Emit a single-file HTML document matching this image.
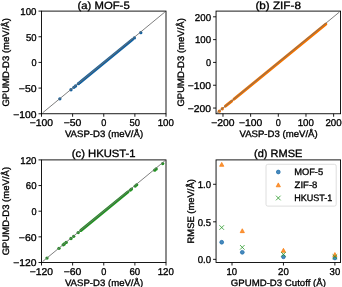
<!DOCTYPE html>
<html><head><meta charset="utf-8"><style>
html,body{margin:0;padding:0;background:#fff;}
svg{display:block;will-change:transform;}
text{text-rendering:geometricPrecision;}
text{font-family:"Liberation Sans",sans-serif;fill:#000;stroke:#000;stroke-width:0.32px;}
</style></head><body>
<svg width="342" height="287" viewBox="0 0 342 287">
<rect width="342" height="287" fill="#fff"/>
<circle cx="59.86" cy="98.84" r="1.65" fill="#14619f"/>
<circle cx="71.00" cy="89.74" r="1.65" fill="#14619f"/>
<circle cx="73.90" cy="87.37" r="1.65" fill="#14619f"/>
<circle cx="75.60" cy="85.98" r="1.65" fill="#14619f"/>
<circle cx="78.40" cy="83.69" r="1.65" fill="#14619f"/>
<circle cx="79.80" cy="82.55" r="1.65" fill="#14619f"/>
<circle cx="134.40" cy="37.93" r="1.65" fill="#14619f"/>
<circle cx="140.80" cy="32.70" r="1.65" fill="#14619f"/>
<line x1="80.80" y1="81.73" x2="132.60" y2="39.40" stroke="#14619f" stroke-width="3.0" stroke-linecap="round"/>
<line x1="42.70" y1="112.76" x2="164.80" y2="12.09" stroke="#707070" stroke-width="0.9"/>
<rect x="41.5" y="11.1" width="124.50" height="102.65" fill="none" stroke="#000" stroke-width="0.9"/>
<line x1="41.50" y1="113.75" x2="41.50" y2="116.75" stroke="#000" stroke-width="0.9"/>
<line x1="72.62" y1="113.75" x2="72.62" y2="116.75" stroke="#000" stroke-width="0.9"/>
<line x1="103.75" y1="113.75" x2="103.75" y2="116.75" stroke="#000" stroke-width="0.9"/>
<line x1="134.88" y1="113.75" x2="134.88" y2="116.75" stroke="#000" stroke-width="0.9"/>
<line x1="166.00" y1="113.75" x2="166.00" y2="116.75" stroke="#000" stroke-width="0.9"/>
<line x1="41.5" y1="113.75" x2="38.50" y2="113.75" stroke="#000" stroke-width="0.9"/>
<line x1="41.5" y1="88.09" x2="38.50" y2="88.09" stroke="#000" stroke-width="0.9"/>
<line x1="41.5" y1="62.42" x2="38.50" y2="62.42" stroke="#000" stroke-width="0.9"/>
<line x1="41.5" y1="36.76" x2="38.50" y2="36.76" stroke="#000" stroke-width="0.9"/>
<line x1="41.5" y1="11.10" x2="38.50" y2="11.10" stroke="#000" stroke-width="0.9"/>
<text x="29.79" y="125.85" font-size="9.9" textLength="23.31" lengthAdjust="spacingAndGlyphs">−100</text>
<text x="63.68" y="125.85" font-size="9.9" textLength="17.79" lengthAdjust="spacingAndGlyphs">−50</text>
<text x="101.20" y="125.85" font-size="9.9" textLength="5.10" lengthAdjust="spacingAndGlyphs">0</text>
<text x="129.58" y="125.85" font-size="9.9" textLength="10.57" lengthAdjust="spacingAndGlyphs">50</text>
<text x="157.72" y="125.85" font-size="9.9" textLength="16.19" lengthAdjust="spacingAndGlyphs">100</text>
<text x="13.24" y="117.55" font-size="9.9" textLength="23.31" lengthAdjust="spacingAndGlyphs">−100</text>
<text x="18.77" y="91.89" font-size="9.9" textLength="17.79" lengthAdjust="spacingAndGlyphs">−50</text>
<text x="31.41" y="66.22" font-size="9.9" textLength="5.10" lengthAdjust="spacingAndGlyphs">0</text>
<text x="25.95" y="40.56" font-size="9.9" textLength="10.57" lengthAdjust="spacingAndGlyphs">50</text>
<text x="20.34" y="14.90" font-size="9.9" textLength="16.19" lengthAdjust="spacingAndGlyphs">100</text>
<text x="77.58" y="8.50" font-size="10.5" textLength="52.10" lengthAdjust="spacingAndGlyphs">(a) MOF-5</text>
<text x="64.90" y="137.15" font-size="9.4" textLength="78.25" lengthAdjust="spacingAndGlyphs">VASP-D3 (meV/Å)</text>
<text transform="translate(9.20,0) rotate(-90)" x="-106.58" y="0" font-size="9.4" textLength="88.42" lengthAdjust="spacingAndGlyphs">GPUMD-D3 (meV/Å)</text>
<circle cx="219.30" cy="111.19" r="1.65" fill="#f07200"/>
<circle cx="222.30" cy="108.74" r="1.65" fill="#f07200"/>
<line x1="225.40" y1="106.21" x2="231.70" y2="101.06" stroke="#f07200" stroke-width="3.0" stroke-linecap="round"/>
<line x1="234.00" y1="99.18" x2="325.80" y2="24.15" stroke="#f07200" stroke-width="3.0" stroke-linecap="round"/>
<line x1="217.25" y1="112.76" x2="339.35" y2="12.09" stroke="#707070" stroke-width="0.9"/>
<rect x="216.05" y="11.1" width="124.50" height="102.65" fill="none" stroke="#000" stroke-width="0.9"/>
<line x1="222.97" y1="113.75" x2="222.97" y2="116.75" stroke="#000" stroke-width="0.9"/>
<line x1="250.63" y1="113.75" x2="250.63" y2="116.75" stroke="#000" stroke-width="0.9"/>
<line x1="278.30" y1="113.75" x2="278.30" y2="116.75" stroke="#000" stroke-width="0.9"/>
<line x1="305.97" y1="113.75" x2="305.97" y2="116.75" stroke="#000" stroke-width="0.9"/>
<line x1="333.63" y1="113.75" x2="333.63" y2="116.75" stroke="#000" stroke-width="0.9"/>
<line x1="216.05" y1="108.05" x2="213.05" y2="108.05" stroke="#000" stroke-width="0.9"/>
<line x1="216.05" y1="85.24" x2="213.05" y2="85.24" stroke="#000" stroke-width="0.9"/>
<line x1="216.05" y1="62.42" x2="213.05" y2="62.42" stroke="#000" stroke-width="0.9"/>
<line x1="216.05" y1="39.61" x2="213.05" y2="39.61" stroke="#000" stroke-width="0.9"/>
<line x1="216.05" y1="16.80" x2="213.05" y2="16.80" stroke="#000" stroke-width="0.9"/>
<text x="211.26" y="125.85" font-size="9.9" textLength="23.31" lengthAdjust="spacingAndGlyphs">−200</text>
<text x="238.93" y="125.85" font-size="9.9" textLength="23.31" lengthAdjust="spacingAndGlyphs">−100</text>
<text x="275.75" y="125.85" font-size="9.9" textLength="5.10" lengthAdjust="spacingAndGlyphs">0</text>
<text x="297.69" y="125.85" font-size="9.9" textLength="16.19" lengthAdjust="spacingAndGlyphs">100</text>
<text x="325.45" y="125.85" font-size="9.9" textLength="16.26" lengthAdjust="spacingAndGlyphs">200</text>
<text x="187.79" y="111.85" font-size="9.9" textLength="23.31" lengthAdjust="spacingAndGlyphs">−200</text>
<text x="187.79" y="89.04" font-size="9.9" textLength="23.31" lengthAdjust="spacingAndGlyphs">−100</text>
<text x="205.96" y="66.22" font-size="9.9" textLength="5.10" lengthAdjust="spacingAndGlyphs">0</text>
<text x="194.89" y="43.41" font-size="9.9" textLength="16.19" lengthAdjust="spacingAndGlyphs">100</text>
<text x="194.82" y="20.60" font-size="9.9" textLength="16.26" lengthAdjust="spacingAndGlyphs">200</text>
<text x="255.48" y="8.50" font-size="10.5" textLength="45.43" lengthAdjust="spacingAndGlyphs">(b) ZIF-8</text>
<text x="239.45" y="137.15" font-size="9.4" textLength="78.25" lengthAdjust="spacingAndGlyphs">VASP-D3 (meV/Å)</text>
<text transform="translate(183.75,0) rotate(-90)" x="-106.58" y="0" font-size="9.4" textLength="88.42" lengthAdjust="spacingAndGlyphs">GPUMD-D3 (meV/Å)</text>
<circle cx="47.00" cy="258.11" r="1.65" fill="#229322"/>
<circle cx="59.00" cy="248.30" r="1.65" fill="#229322"/>
<circle cx="63.20" cy="244.87" r="1.65" fill="#229322"/>
<circle cx="64.30" cy="243.98" r="1.65" fill="#229322"/>
<circle cx="66.20" cy="242.42" r="1.65" fill="#229322"/>
<circle cx="71.00" cy="238.50" r="1.65" fill="#229322"/>
<circle cx="73.70" cy="236.30" r="1.65" fill="#229322"/>
<circle cx="78.20" cy="232.62" r="1.65" fill="#229322"/>
<circle cx="130.30" cy="190.06" r="1.65" fill="#229322"/>
<circle cx="131.50" cy="189.08" r="1.65" fill="#229322"/>
<circle cx="135.20" cy="186.06" r="1.65" fill="#229322"/>
<circle cx="136.70" cy="184.83" r="1.65" fill="#229322"/>
<circle cx="154.70" cy="170.13" r="1.65" fill="#229322"/>
<circle cx="156.20" cy="168.91" r="1.65" fill="#229322"/>
<circle cx="162.70" cy="163.60" r="1.65" fill="#229322"/>
<line x1="80.80" y1="230.50" x2="128.00" y2="191.94" stroke="#229322" stroke-width="3.0" stroke-linecap="round"/>
<line x1="42.70" y1="261.51" x2="164.80" y2="160.89" stroke="#707070" stroke-width="0.9"/>
<rect x="41.5" y="159.9" width="124.50" height="102.60" fill="none" stroke="#000" stroke-width="0.9"/>
<line x1="41.50" y1="262.5" x2="41.50" y2="265.50" stroke="#000" stroke-width="0.9"/>
<line x1="72.62" y1="262.5" x2="72.62" y2="265.50" stroke="#000" stroke-width="0.9"/>
<line x1="103.75" y1="262.5" x2="103.75" y2="265.50" stroke="#000" stroke-width="0.9"/>
<line x1="134.88" y1="262.5" x2="134.88" y2="265.50" stroke="#000" stroke-width="0.9"/>
<line x1="166.00" y1="262.5" x2="166.00" y2="265.50" stroke="#000" stroke-width="0.9"/>
<line x1="41.5" y1="262.50" x2="38.50" y2="262.50" stroke="#000" stroke-width="0.9"/>
<line x1="41.5" y1="236.85" x2="38.50" y2="236.85" stroke="#000" stroke-width="0.9"/>
<line x1="41.5" y1="211.20" x2="38.50" y2="211.20" stroke="#000" stroke-width="0.9"/>
<line x1="41.5" y1="185.55" x2="38.50" y2="185.55" stroke="#000" stroke-width="0.9"/>
<line x1="41.5" y1="159.90" x2="38.50" y2="159.90" stroke="#000" stroke-width="0.9"/>
<text x="29.79" y="274.60" font-size="9.9" textLength="23.31" lengthAdjust="spacingAndGlyphs">−120</text>
<text x="63.68" y="274.60" font-size="9.9" textLength="17.79" lengthAdjust="spacingAndGlyphs">−60</text>
<text x="101.20" y="274.60" font-size="9.9" textLength="5.10" lengthAdjust="spacingAndGlyphs">0</text>
<text x="129.44" y="274.60" font-size="9.9" textLength="10.75" lengthAdjust="spacingAndGlyphs">60</text>
<text x="157.72" y="274.60" font-size="9.9" textLength="16.19" lengthAdjust="spacingAndGlyphs">120</text>
<text x="13.24" y="266.30" font-size="9.9" textLength="23.31" lengthAdjust="spacingAndGlyphs">−120</text>
<text x="18.77" y="240.65" font-size="9.9" textLength="17.79" lengthAdjust="spacingAndGlyphs">−60</text>
<text x="31.41" y="215.00" font-size="9.9" textLength="5.10" lengthAdjust="spacingAndGlyphs">0</text>
<text x="25.77" y="189.35" font-size="9.9" textLength="10.75" lengthAdjust="spacingAndGlyphs">60</text>
<text x="20.34" y="163.70" font-size="9.9" textLength="16.19" lengthAdjust="spacingAndGlyphs">120</text>
<text x="71.75" y="157.30" font-size="10.5" textLength="63.85" lengthAdjust="spacingAndGlyphs">(c) HKUST-1</text>
<text x="64.90" y="285.90" font-size="9.4" textLength="78.25" lengthAdjust="spacingAndGlyphs">VASP-D3 (meV/Å)</text>
<text transform="translate(9.20,0) rotate(-90)" x="-255.36" y="0" font-size="9.4" textLength="88.42" lengthAdjust="spacingAndGlyphs">GPUMD-D3 (meV/Å)</text>
<circle cx="221.71" cy="242.24" r="1.90" fill="#1a6cab" fill-opacity="0.8" stroke="#1a6cab" stroke-opacity="0.8" stroke-width="0.9"/>
<path d="M221.71 162.40L223.81 166.30L219.61 166.30Z" fill="#f97a0a" fill-opacity="0.8" stroke="#f97a0a" stroke-opacity="0.8" stroke-width="0.9" stroke-linejoin="miter"/>
<path d="M219.41 225.22L224.01 229.82M224.01 225.22L219.41 229.82" stroke="#289a28" stroke-opacity="0.8" stroke-width="1.0" fill="none"/>
<circle cx="242.29" cy="252.29" r="1.90" fill="#1a6cab" fill-opacity="0.8" stroke="#1a6cab" stroke-opacity="0.8" stroke-width="0.9"/>
<path d="M242.29 228.75L244.39 232.65L240.19 232.65Z" fill="#f97a0a" fill-opacity="0.8" stroke="#f97a0a" stroke-opacity="0.8" stroke-width="0.9" stroke-linejoin="miter"/>
<path d="M239.99 245.04L244.59 249.64M244.59 245.04L239.99 249.64" stroke="#289a28" stroke-opacity="0.8" stroke-width="1.0" fill="none"/>
<circle cx="283.44" cy="256.80" r="1.90" fill="#1a6cab" fill-opacity="0.8" stroke="#1a6cab" stroke-opacity="0.8" stroke-width="0.9"/>
<path d="M283.44 248.34L285.54 252.24L281.34 252.24Z" fill="#f97a0a" fill-opacity="0.8" stroke="#f97a0a" stroke-opacity="0.8" stroke-width="0.9" stroke-linejoin="miter"/>
<path d="M281.14 252.09L285.74 256.69M285.74 252.09L281.14 256.69" stroke="#289a28" stroke-opacity="0.8" stroke-width="1.0" fill="none"/>
<circle cx="334.89" cy="258.00" r="1.90" fill="#1a6cab" fill-opacity="0.8" stroke="#1a6cab" stroke-opacity="0.8" stroke-width="0.9"/>
<path d="M334.89 252.54L336.99 256.44L332.79 256.44Z" fill="#f97a0a" fill-opacity="0.8" stroke="#f97a0a" stroke-opacity="0.8" stroke-width="0.9" stroke-linejoin="miter"/>
<path d="M332.59 254.35L337.19 258.95M337.19 254.35L332.59 258.95" stroke="#289a28" stroke-opacity="0.8" stroke-width="1.0" fill="none"/>
<rect x="216.05" y="159.9" width="124.50" height="102.60" fill="none" stroke="#000" stroke-width="0.9"/>
<line x1="232.00" y1="262.5" x2="232.00" y2="265.50" stroke="#000" stroke-width="0.9"/>
<line x1="283.44" y1="262.5" x2="283.44" y2="265.50" stroke="#000" stroke-width="0.9"/>
<line x1="334.89" y1="262.5" x2="334.89" y2="265.50" stroke="#000" stroke-width="0.9"/>
<line x1="216.05" y1="259.35" x2="213.05" y2="259.35" stroke="#000" stroke-width="0.9"/>
<line x1="216.05" y1="221.82" x2="213.05" y2="221.82" stroke="#000" stroke-width="0.9"/>
<line x1="216.05" y1="184.29" x2="213.05" y2="184.29" stroke="#000" stroke-width="0.9"/>
<text x="226.50" y="274.60" font-size="9.9" textLength="10.64" lengthAdjust="spacingAndGlyphs">10</text>
<text x="278.03" y="274.60" font-size="9.9" textLength="10.72" lengthAdjust="spacingAndGlyphs">20</text>
<text x="329.61" y="274.60" font-size="9.9" textLength="10.56" lengthAdjust="spacingAndGlyphs">30</text>
<text x="197.64" y="263.15" font-size="9.9" textLength="13.44" lengthAdjust="spacingAndGlyphs">0.0</text>
<text x="197.82" y="225.62" font-size="9.9" textLength="13.28" lengthAdjust="spacingAndGlyphs">0.5</text>
<text x="197.66" y="188.09" font-size="9.9" textLength="13.41" lengthAdjust="spacingAndGlyphs">1.0</text>
<text x="254.04" y="157.30" font-size="10.5" textLength="48.31" lengthAdjust="spacingAndGlyphs">(d) RMSE</text>
<text x="230.79" y="285.90" font-size="9.4" textLength="95.13" lengthAdjust="spacingAndGlyphs">GPUMD-D3 Cutoff (Å)</text>
<text transform="translate(193.65,0) rotate(-90)" x="-243.44" y="0" font-size="9.4" textLength="64.30" lengthAdjust="spacingAndGlyphs">RMSE (meV/Å)</text>
<rect x="266.0" y="164.3" width="70.2" height="41.8" rx="1.8" fill="#fff" fill-opacity="0.8" stroke="#d6d6d6" stroke-width="0.8"/>
<circle cx="278.30" cy="172.00" r="1.90" fill="#1a6cab" fill-opacity="0.8" stroke="#1a6cab" stroke-opacity="0.8" stroke-width="0.9"/>
<path d="M278.30 182.90L280.40 186.80L276.20 186.80Z" fill="#f97a0a" fill-opacity="0.8" stroke="#f97a0a" stroke-opacity="0.8" stroke-width="0.9" stroke-linejoin="miter"/>
<path d="M276.00 195.70L280.60 200.30M280.60 195.70L276.00 200.30" stroke="#289a28" stroke-opacity="0.8" stroke-width="1.0" fill="none"/>
<text x="294.13" y="175.40" font-size="9.4" textLength="29.06" lengthAdjust="spacingAndGlyphs">MOF-5</text>
<text x="294.60" y="188.20" font-size="9.4" textLength="22.82" lengthAdjust="spacingAndGlyphs">ZIF-8</text>
<text x="294.17" y="201.30" font-size="9.4" textLength="38.17" lengthAdjust="spacingAndGlyphs">HKUST-1</text>
</svg>
</body></html>
